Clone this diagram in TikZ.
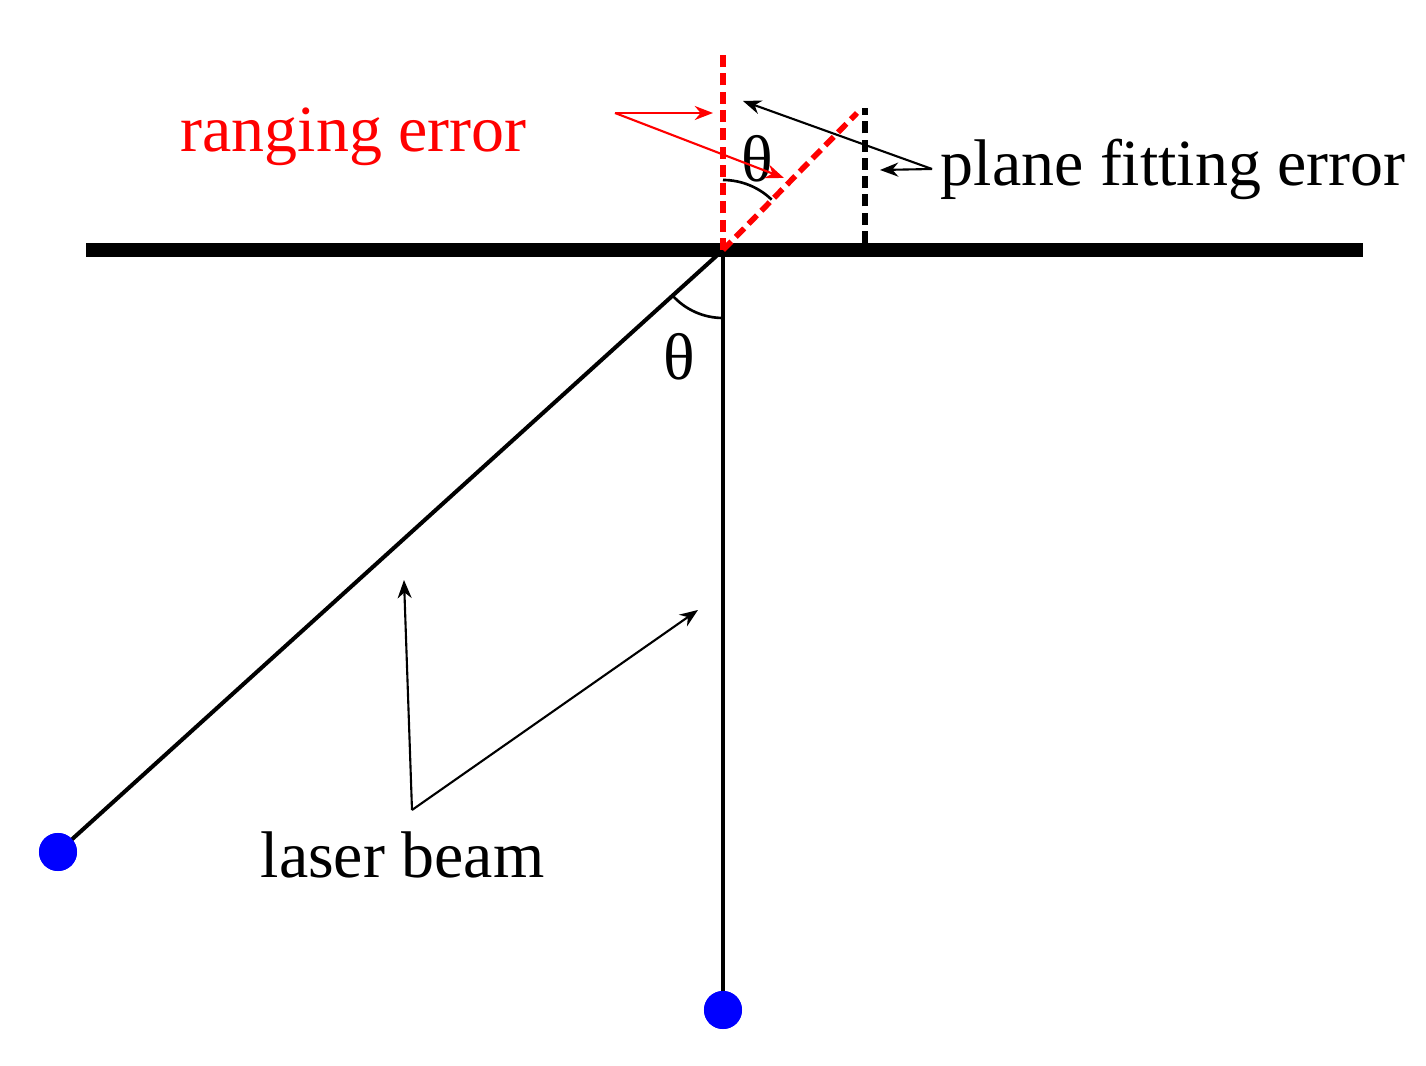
\documentclass[tikz,border=0pt]{standalone}
\usepackage{fontspec}
\setmainfont{Liberation Serif}
\usetikzlibrary{arrows.meta}
\begin{document}
\begin{tikzpicture}[x=0.01cm,y=0.01cm,
  txt/.style={inner sep=0pt,font=\fontsize{18.75}{20}\selectfont},
  beam/.style={line width=1.15pt,black},
  pointer/.style={line width=0.6pt,-{Stealth[length=5.2pt,width=4pt]}},
  reddash/.style={red,line width=1.6pt,dash pattern=on 3.4pt off 1.8pt},
  blackdash/.style={black,line width=1.6pt,dash pattern=on 3.4pt off 1.8pt},
  dot/.style={circle,fill=blue,inner sep=0pt,minimum size=0.38cm}]
\useasboundingbox (0,0) rectangle (1426,1066);
% coordinates
\coordinate (A) at (723,816);
\coordinate (Pl) at (86,816);
\coordinate (Pr) at (1363,816);
\node[dot] (B) at (723,56) {};
\node[dot] (L) at (58,214) {};
\coordinate (RT) at (723,1016);
\coordinate (RS) at (857,953);
\coordinate (KT) at (865,958);
\coordinate (KB) at (865,823);
% surface
\draw[line width=4pt] (Pl) -- (Pr);
% beams
\draw[beam] (A) -- (B.center);
\draw[beam] (A) -- (L.center);
\node[dot] at (B) {};
\node[dot] at (L) {};
% dashed lines
\draw[reddash] (A) -- (RT);
\draw[reddash] (A) -- (RS);
\draw[blackdash] (KB) -- (KT);
% angle arcs
\draw[line width=0.75pt] (A) ++(222:68) arc[start angle=222,end angle=270,radius=68];
\draw[line width=0.75pt] (A) ++(90:70) arc[start angle=90,end angle=46,radius=70];
\node[txt,anchor=base] (th1) at (679,686) {θ};
\node[txt,anchor=base] (th2) at (757,884) {θ};
% ranging error
\node[txt,anchor=base west,text=red] (rg) at (180,914) {ranging error};
\coordinate (R0) at (615,953);
\coordinate (R1) at (713,953);
\coordinate (R2) at (784,888);
\draw[pointer,red] (R0) -- (R1);
\draw[pointer,red] (R0) -- (R2);
% plane fitting error
\node[txt,anchor=base west] (pf) at (940,880) {plane fitting error};
\coordinate (P0) at (932,897);
\coordinate (P1) at (743,965);
\coordinate (P2) at (880,896);
\draw[pointer] (P0) -- (P1);
\draw[pointer] (P0) -- (P2);
% laser beam
\node[txt,anchor=base west] (lb) at (260,188) {laser beam};
\coordinate (V) at (412,256);
\coordinate (V1) at (404,486);
\coordinate (V2) at (698,456);
\draw[pointer] (V) -- (V1);
\draw[pointer] (V) -- (V2);
\end{tikzpicture}
\end{document}
